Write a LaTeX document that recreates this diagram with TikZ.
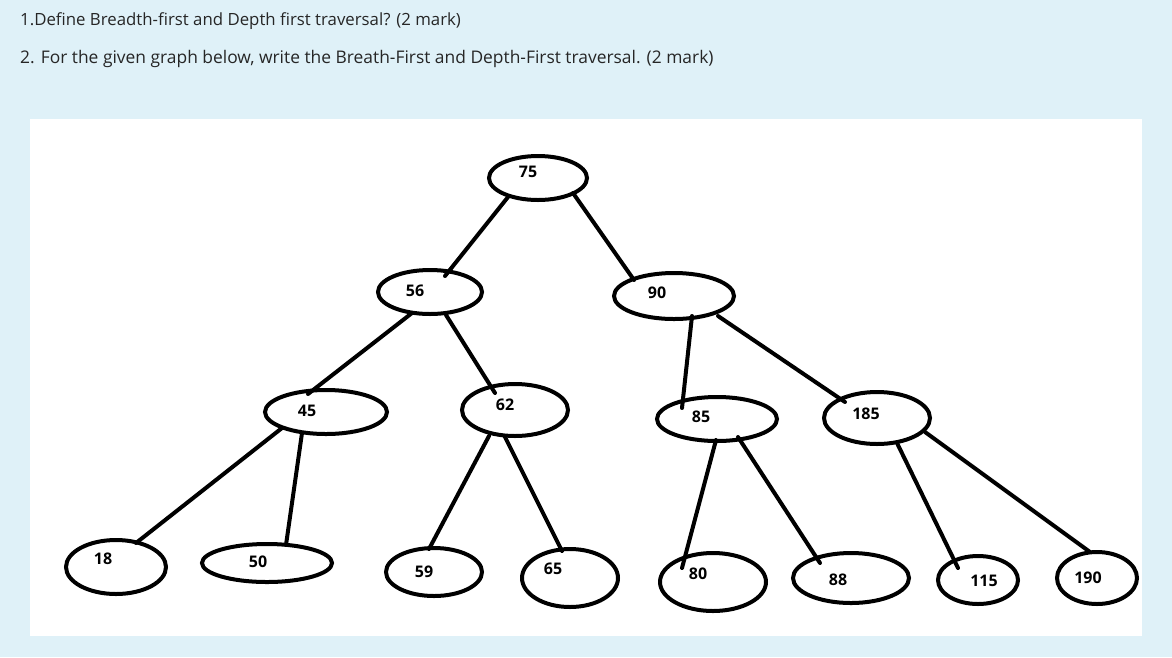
\documentclass[tikz,border=0pt]{standalone}
\usepackage{fontspec}
\setmainfont{Open Sans}
\usetikzlibrary{shapes.geometric}
\definecolor{bgblue}{HTML}{DFF1F8}
\begin{document}
\begin{tikzpicture}[x=1pt,y=-1pt,
  ov/.style={draw=black,line width=4pt,fill=white},
  lbl/.style={font=\bfseries\fontsize{16}{18}\selectfont,inner sep=0pt},
  edge/.style={line width=4pt,line cap=round}]
\fill[bgblue] (0,0) rectangle (1172,657);
\useasboundingbox (0,0) rectangle (1172,657);
\fill[white] (30,119) rectangle (1142,636);
\node[anchor=west,inner sep=0pt,font=\fontsize{16.8}{19}\selectfont,text=black!85] (q1) at (20,21) {1.Define Breadth-first and Depth first traversal? (2 mark)};
\node[anchor=west,inner sep=0pt,font=\fontsize{17.4}{19}\selectfont,text=black!85] (q2) at (20,59) {2. For the given graph below, write the Breath-First and Depth-First traversal. (2 mark)};
% edge endpoints
\foreach \n/\x/\y in {a1/508/197,a2/445/276,b1/573/193,b2/634/280,c1/412/313,c2/308/394,d1/446/315,d2/495/393,e1/692/316,e2/682/408,f1/718/316,f2/845/402,g1/282/428,g2/136/543,h1/302/433,h2/286/545,i1/489/436,i2/429/549,j1/505/437,j2/562/551,k1/716/440,k2/682/568,l1/738/437,l2/820/563,m1/897/443,m2/958/568,n1/925/432,n2/1090/552}
  \coordinate (\n) at (\x,\y);
% ellipses
\foreach \n/\x/\y/\rx/\ry in {e75/538/178/49/22,e56/430/292/52/22,e90/674/296/60/23,e45/326/412/61/22,e62/515/410/53/26,e85/717/419/60/22,e185/877/418/53/26,e18/116/567/50/27,e50/267/563/65/19,e59/434/572/48/24,e65/570/578/48/29,e80/713/582/53/29,e88/851/578/58/25,e115/978/580/40/24,e190/1097/578/40/26}
  \draw[ov] (\x,\y) ellipse [x radius=\rx, y radius=\ry];
\foreach \s/\t in {a1/a2,b1/b2,c1/c2,d1/d2,e1/e2,f1/f2,g1/g2,h1/h2,i1/i2,j1/j2,k1/k2,l1/l2,m1/m2,n1/n2}
  \draw[edge] (\s) -- (\t);
\foreach \n/\x/\y/\t in {t75/528/172/75,t56/415/291/56,t90/657/293/90,t45/307/411/45,t62/505/405/62,t85/701/417/85,t185/866/414/185,t18/103/559/18,t50/258/562/50,t59/424/572/59,t65/553/569/65,t80/698/574/80,t88/838/580/88,t115/984/581/115,t190/1088/578/190}
  \node[lbl] (\n) at (\x,\y) {\t};
\end{tikzpicture}
\end{document}
